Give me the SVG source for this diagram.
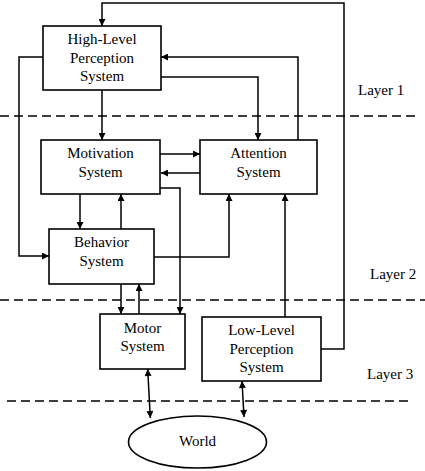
<svg xmlns="http://www.w3.org/2000/svg" width="425" height="471" viewBox="0 0 425 471">
<defs>
<marker id="ah" viewBox="0 0 10 10" refX="10" refY="5" markerWidth="8" markerHeight="7" markerUnits="userSpaceOnUse" orient="auto-start-reverse">
<path d="M0,0 L10,5 L0,10 z" fill="#000"/>
</marker>
<style>
.box{fill:#fff;stroke:#000;stroke-width:1.6}
.t{font-family:"Liberation Serif","Times New Roman",serif;font-size:15px;fill:#000;text-anchor:middle}
.lab{font-family:"Liberation Serif","Times New Roman",serif;font-size:15px;fill:#000}
.c{fill:none;stroke:#000;stroke-width:1.5}
.a{marker-end:url(#ah)}
.dash{fill:none;stroke:#000;stroke-width:1.5;stroke-dasharray:9 5}
</style>
</defs>
<g id="layers">
<line class="dash" x1="0" y1="116" x2="415" y2="116"/>
<line class="dash" x1="0" y1="300" x2="425" y2="300"/>
<line class="dash" x1="7" y1="401" x2="413" y2="401"/>
<text class="lab" x="358" y="95">Layer 1</text>
<text class="lab" x="370" y="279">Layer 2</text>
<text class="lab" x="367" y="379">Layer 3</text>
</g>
<g id="connectors">
<polyline class="c a" points="321,349 344,349 344,3 102,3 102,26"/>
<polyline class="c a" points="43,57 19,57 19,256 49,256"/>
<polyline class="c a" points="298,140 298,57 161,57"/>
<polyline class="c a" points="161,77 258,77 258,140"/>
<line class="c a" x1="102" y1="90" x2="102" y2="140"/>
<line class="c a" x1="160" y1="154" x2="200" y2="154"/>
<line class="c a" x1="200" y1="173" x2="161" y2="173"/>
<polyline class="c a" points="160,188 180,188 180,314"/>
<line class="c a" x1="80" y1="194" x2="80" y2="229"/>
<line class="c a" x1="121" y1="229" x2="121" y2="194"/>
<polyline class="c a" points="154,257 229,257 229,194"/>
<line class="c a" x1="285" y1="317" x2="285" y2="194"/>
<line class="c a" x1="121" y1="284" x2="121" y2="314"/>
<line class="c a" x1="139" y1="314" x2="139" y2="284"/>
<line class="c a" x1="147.7" y1="369" x2="150.3" y2="418" marker-start="url(#ah)"/>
<line class="c a" x1="242" y1="381" x2="244" y2="417" marker-start="url(#ah)"/>
</g>
<g id="high-level">
<rect class="box" x="43" y="26" width="118" height="64"/>
<text class="t" x="102" y="44">High-Level</text>
<text class="t" x="102" y="63">Perception</text>
<text class="t" x="102" y="81">System</text>
</g>
<g id="motivation">
<rect class="box" x="41" y="140" width="119" height="54"/>
<text class="t" x="100.5" y="158">Motivation</text>
<text class="t" x="100.5" y="177">System</text>
</g>
<g id="attention">
<rect class="box" x="200" y="140" width="117" height="54"/>
<text class="t" x="258.5" y="158">Attention</text>
<text class="t" x="258.5" y="177">System</text>
</g>
<g id="behavior">
<rect class="box" x="49" y="229" width="105" height="55"/>
<text class="t" x="101.5" y="247">Behavior</text>
<text class="t" x="101.5" y="266">System</text>
</g>
<g id="motor">
<rect class="box" x="100" y="314" width="85" height="55"/>
<text class="t" x="142.5" y="333">Motor</text>
<text class="t" x="142.5" y="351">System</text>
</g>
<g id="low-level">
<rect class="box" x="202" y="317" width="119" height="64"/>
<text class="t" x="261.5" y="335">Low-Level</text>
<text class="t" x="261.5" y="354">Perception</text>
<text class="t" x="261.5" y="372">System</text>
</g>
<g id="world">
<ellipse class="box" cx="197.5" cy="442" rx="69" ry="26"/>
<text class="t" x="197.5" y="446">World</text>
</g>
</svg>
